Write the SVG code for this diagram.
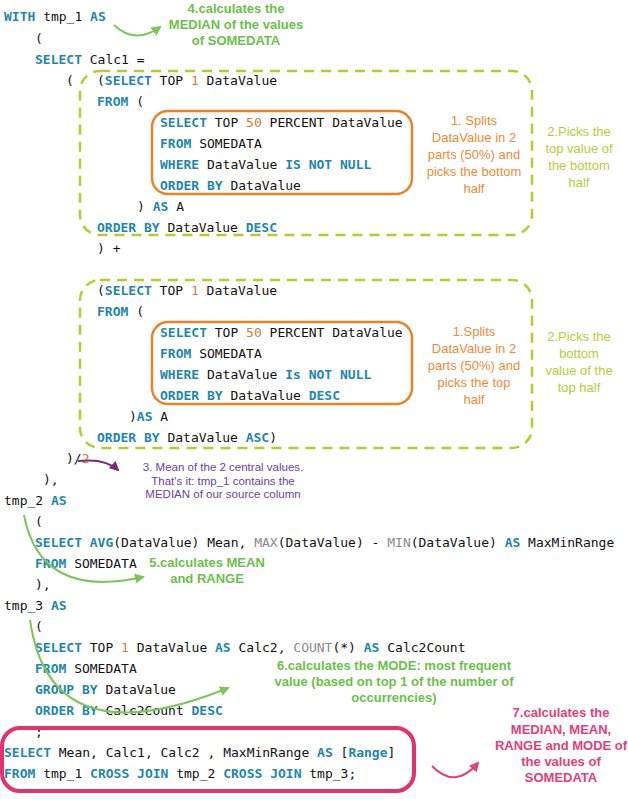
<svg xmlns="http://www.w3.org/2000/svg" width="628" height="799" viewBox="0 0 628 799">
<defs>
<style>
.c{font-family:"DejaVu Sans Mono",monospace;font-size:13px;fill:#111}
.k{fill:#1f86ad;font-weight:bold}
.n{fill:#c8803e}
.f{fill:#8a8a8a}
.a{font-family:"Liberation Sans",Arial,sans-serif;font-size:13px;text-anchor:middle}
.g{fill:#6cbf4a;font-weight:bold}
.o{fill:#ee8a35}
.y{fill:#b7cc3a}
.p{fill:#6a3fa6;font-size:11.5px}
.m{fill:#e2407a;font-weight:bold}
.dash{fill:none;stroke:#b5cc2e;stroke-width:2.5;stroke-dasharray:10 7}
.ob{fill:none;stroke:#e8832a;stroke-width:2.5}
</style>
<marker id="ag" viewBox="0 0 10 10" refX="8" refY="5" markerWidth="5" markerHeight="5" orient="auto"><path d="M0,0L10,5L0,10z" fill="#7cc65a"/></marker>
<marker id="ap" viewBox="0 0 10 10" refX="8" refY="5" markerWidth="5" markerHeight="5" orient="auto"><path d="M0,0L10,5L0,10z" fill="#7a2a7a"/></marker>
<marker id="am" viewBox="0 0 10 10" refX="8" refY="5" markerWidth="5" markerHeight="5" orient="auto"><path d="M0,0L10,5L0,10z" fill="#e2407a"/></marker>
</defs>
<rect width="628" height="799" fill="#fff"/>
<g id="box1"><rect class="dash" x="80" y="71" width="452" height="164" rx="20"/><rect class="ob" x="152" y="111" width="260" height="83" rx="16"/></g>
<g id="box2"><rect class="dash" x="80" y="280" width="452" height="168" rx="20"/><rect class="ob" x="152" y="322" width="260" height="82" rx="16"/></g>
<g id="box3"><rect x="2" y="728" width="412" height="63" rx="18" fill="none" stroke="#e0336f" stroke-width="4"/></g>
<g id="code" class="c">
<text x="4" y="21"><tspan class="k">WITH</tspan> tmp_1 <tspan class="k">AS</tspan></text>
<text x="35" y="43">(</text>
<text x="35" y="64"><tspan class="k">SELECT</tspan> Calc1 =</text>
<text x="66" y="85">(</text>
<text x="97" y="85">(<tspan class="k">SELECT</tspan> TOP <tspan class="n">1</tspan> DataValue</text>
<text x="97" y="106"><tspan class="k">FROM</tspan> (</text>
<text x="160" y="127"><tspan class="k">SELECT</tspan> TOP <tspan class="n">50</tspan> PERCENT DataValue</text>
<text x="160" y="148"><tspan class="k">FROM</tspan> SOMEDATA</text>
<text x="160" y="169"><tspan class="k">WHERE</tspan> DataValue <tspan class="k">IS NOT NULL</tspan></text>
<text x="160" y="190"><tspan class="k">ORDER BY</tspan> DataValue</text>
<text x="137" y="211">) <tspan class="k">AS</tspan> A</text>
<text x="97" y="232"><tspan class="k">ORDER BY</tspan> DataValue <tspan class="k">DESC</tspan></text>
<text x="97" y="253">) +</text>
<text x="97" y="295">(<tspan class="k">SELECT</tspan> TOP <tspan class="n">1</tspan> DataValue</text>
<text x="97" y="316"><tspan class="k">FROM</tspan> (</text>
<text x="160" y="337"><tspan class="k">SELECT</tspan> TOP <tspan class="n">50</tspan> PERCENT DataValue</text>
<text x="160" y="358"><tspan class="k">FROM</tspan> SOMEDATA</text>
<text x="160" y="379"><tspan class="k">WHERE</tspan> DataValue <tspan class="k">Is NOT NULL</tspan></text>
<text x="160" y="400"><tspan class="k">ORDER BY</tspan> DataValue <tspan class="k">DESC</tspan></text>
<text x="129" y="421">)<tspan class="k">AS</tspan> A</text>
<text x="97" y="442"><tspan class="k">ORDER BY</tspan> DataValue <tspan class="k">ASC</tspan>)</text>
<text x="66" y="463">)/<tspan class="n">2</tspan></text>
<text x="43" y="484">),</text>
<text x="4" y="505">tmp_2 <tspan class="k">AS</tspan></text>
<text x="35" y="526">(</text>
<text x="35" y="547"><tspan class="k">SELECT AVG</tspan>(DataValue) Mean, <tspan class="f">MAX</tspan>(DataValue) - <tspan class="f">MIN</tspan>(DataValue) <tspan class="k">AS</tspan> MaxMinRange</text>
<text x="35" y="568"><tspan class="k">FROM</tspan> SOMEDATA</text>
<text x="35" y="589">),</text>
<text x="4" y="610">tmp_3 <tspan class="k">AS</tspan></text>
<text x="35" y="631">(</text>
<text x="35" y="652"><tspan class="k">SELECT</tspan> TOP <tspan class="n">1</tspan> DataValue <tspan class="k">AS</tspan> Calc2, <tspan class="f">COUNT</tspan>(*) <tspan class="k">AS</tspan> Calc2Count</text>
<text x="35" y="673"><tspan class="k">FROM</tspan> SOMEDATA</text>
<text x="35" y="694"><tspan class="k">GROUP BY</tspan> DataValue</text>
<text x="35" y="715"><tspan class="k">ORDER BY</tspan> Calc2Count <tspan class="k">DESC</tspan></text>
<text x="35" y="736">;</text>
<text x="4" y="757"><tspan class="k">SELECT</tspan> Mean, Calc1, Calc2 , MaxMinRange <tspan class="k">AS</tspan> [<tspan class="k">Range</tspan>]</text>
<text x="4" y="778"><tspan class="k">FROM</tspan> tmp_1 <tspan class="k">CROSS JOIN</tspan> tmp_2 <tspan class="k">CROSS JOIN</tspan> tmp_3;</text>
</g>
<g id="notes" class="a">
<text class="g" x="236" y="13">4.calculates the</text>
<text class="g" x="236" y="29">MEDIAN of the values</text>
<text class="g" x="236" y="45">of SOMEDATA</text>
<text class="o" x="474" y="125">1. Splits</text>
<text class="o" x="474" y="142">DataValue in 2</text>
<text class="o" x="474" y="159">parts (50%) and</text>
<text class="o" x="474" y="176">picks the bottom</text>
<text class="o" x="474" y="193">half</text>
<text class="y" x="579" y="136">2.Picks the</text>
<text class="y" x="579" y="153">top value of</text>
<text class="y" x="579" y="170">the bottom</text>
<text class="y" x="579" y="187">half</text>
<text class="o" x="474" y="336">1.Splits</text>
<text class="o" x="474" y="353">DataValue in 2</text>
<text class="o" x="474" y="370">parts (50%) and</text>
<text class="o" x="474" y="387">picks the top</text>
<text class="o" x="474" y="404">half</text>
<text class="y" x="579" y="341">2.Picks the</text>
<text class="y" x="579" y="358">bottom</text>
<text class="y" x="579" y="375">value of the</text>
<text class="y" x="579" y="392">top half</text>
<text class="p" x="223" y="471">3. Mean of the 2 central values.</text>
<text class="p" x="223" y="485">That's it: tmp_1 contains the</text>
<text class="p" x="223" y="498">MEDIAN of our source column</text>
<text class="g" x="207" y="567">5.calculates MEAN</text>
<text class="g" x="207" y="583">and RANGE</text>
<text class="g" x="394" y="670">6.calculates the MODE: most frequent</text>
<text class="g" x="394" y="686">value (based on top 1 of the number of</text>
<text class="g" x="394" y="702">occurrencies)</text>
<text class="m" x="561" y="717">7.calculates the</text>
<text class="m" x="561" y="734">MEDIAN, MEAN,</text>
<text class="m" x="561" y="750">RANGE and MODE of</text>
<text class="m" x="561" y="766">the values of</text>
<text class="m" x="561" y="782">SOMEDATA</text>
</g>
<g id="connectors" fill="none" stroke-width="2">
<path d="M114,25 Q135,45 160,27" stroke="#7cc65a" marker-end="url(#ag)"/>
<path d="M78,461 Q105,458 118,470" stroke="#7a2a7a" marker-end="url(#ap)"/>
<path d="M24,515 Q40,600 143,577" stroke="#7cc65a" marker-end="url(#ag)"/>
<path d="M30,620 Q50,760 228,688" stroke="#7cc65a" marker-end="url(#ag)"/>
<path d="M432,766 Q455,790 478,763" stroke="#e2407a" marker-end="url(#am)"/>
</g>
</svg>
